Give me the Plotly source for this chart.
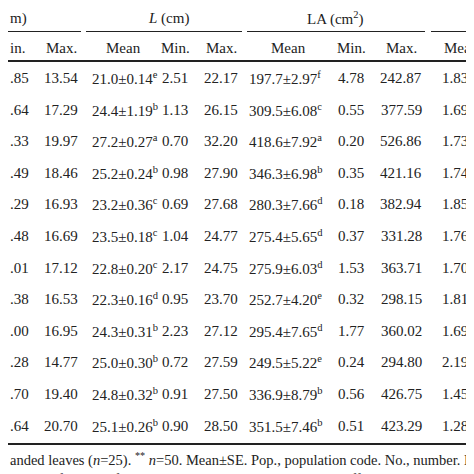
import plotly.graph_objects as go

# visible (cropped) table values, one list per column
w_min = ["1.85", "5.64", "6.33", "5.49", "5.29", "6.48", "6.01", "5.38", "6.00", "5.28", "6.70", "5.64"]
w_max = ["13.54", "17.29", "19.97", "18.46", "16.93", "16.69", "17.12", "16.53", "16.95", "14.77", "19.40", "20.70"]
l_mean = ["21.0±0.14<sup>e</sup>", "24.4±1.19<sup>b</sup>", "27.2±0.27<sup>a</sup>", "25.2±0.24<sup>b</sup>",
          "23.2±0.36<sup>c</sup>", "23.5±0.18<sup>c</sup>", "22.8±0.20<sup>c</sup>", "22.3±0.16<sup>d</sup>",
          "24.3±0.31<sup>b</sup>", "25.0±0.30<sup>b</sup>", "24.8±0.32<sup>b</sup>", "25.1±0.26<sup>b</sup>"]
l_min = ["2.51", "1.13", "0.70", "0.98", "0.69", "1.04", "2.17", "0.95", "2.23", "0.72", "0.91", "0.90"]
l_max = ["22.17", "26.15", "32.20", "27.90", "27.68", "24.77", "24.75", "23.70", "27.12", "27.59", "27.50", "28.50"]
la_mean = ["197.7±2.97<sup>f</sup>", "309.5±6.08<sup>c</sup>", "418.6±7.92<sup>a</sup>", "346.3±6.98<sup>b</sup>",
           "280.3±7.66<sup>d</sup>", "275.4±5.65<sup>d</sup>", "275.9±6.03<sup>d</sup>", "252.7±4.20<sup>e</sup>",
           "295.4±7.65<sup>d</sup>", "249.5±5.22<sup>e</sup>", "336.9±8.79<sup>b</sup>", "351.5±7.46<sup>b</sup>"]
la_min = ["4.78", "0.55", "0.20", "0.35", "0.18", "0.37", "1.53", "0.32", "1.77", "0.24", "0.56", "0.51"]
la_max = ["242.87", "377.59", "526.86", "421.16", "382.94", "331.28", "363.71", "298.15", "360.02", "294.80", "426.75", "423.29"]
lw_mean = ["1.83±0.", "1.69±0.", "1.73±0.", "1.74±0.", "1.85±0.", "1.76±0.",
           "1.70±0.", "1.81±0.", "1.69±0.", "2.19±0.", "1.45±0.", "1.28±0."]

group_titles = ["m)", "<i>L</i> (cm)", "LA (cm<sup>2</sup>)"]
sub_headers = ["in.", "Max.", "Mean", "Min.", "Max.", "Mean", "Min.", "Max.", "Mean"]
footnote = ["anded leaves (<i>n</i>=25). <sup>**</sup> <i>n</i>=50. Mean±SE. Pop., population code. No., number. Di",
            "rences of means of <i>W</i>, <i>L</i>, LA, <i>L</i>/<i>W</i> ratio and SLA among different populations (<i>P</i>"]

FONT = dict(family="Liberation Serif", size=15, color="#222")

fig = go.Figure()
ann = []

def add(x, y, text, anchor="center", size=15):
    ann.append(dict(x=x, y=y, xref="x", yref="y", text=text, showarrow=False,
                    xanchor=anchor, yanchor="middle", font=dict(FONT, size=size)))

# group headers
add(0, 10, group_titles[0], "left")
add(160, 10, group_titles[1])
add(327, 10, group_titles[2])

# sub headers
sub_x = [(0, "left"), (53, "center"), (115, "center"), (167, "center"), (213, "center"),
         (280, "center"), (343, "center"), (393, "center"), (453, "center")]
for (x, a), t in zip(sub_x, sub_headers):
    add(x, 40, t, a)

columns = [(w_min, 0, "left"), (w_max, 53, "center"), (l_mean, 82, "left"), (l_min, 167, "center"),
           (l_max, 213, "center"), (la_mean, 239, "left"), (la_min, 343, "center"),
           (la_max, 393, "center"), (lw_mean, 432, "left")]
step = 31.6
for col, x, a in columns:
    for i, v in enumerate(col):
        t = v[1:] if col is w_min else v
        add(x, 70 + i * step, t, a)

for i, line in enumerate(footnote):
    add(0, 451 + i * 20, line, "left", 14.5)

shapes = []
for x0, x1 in [(-10, 73), (78, 234), (239, 417), (423, 490)]:
    shapes.append(dict(type="line", x0=x0, x1=x1, y0=23.5, y1=23.5, xref="x", yref="y",
                       line=dict(color="#222", width=1.2)))
for y in [53, 436]:
    shapes.append(dict(type="line", x0=-10, x1=490, y0=y, y1=y, xref="x", yref="y",
                       line=dict(color="#222", width=1.8)))

fig.update_layout(width=474, height=474, margin=dict(l=0, r=0, t=0, b=0),
                  plot_bgcolor="white", paper_bgcolor="white",
                  xaxis=dict(range=[0, 474], visible=False, fixedrange=True),
                  yaxis=dict(range=[474, 0], visible=False, fixedrange=True),
                  annotations=ann, shapes=shapes, showlegend=False)
fig.write_html("out.html")
